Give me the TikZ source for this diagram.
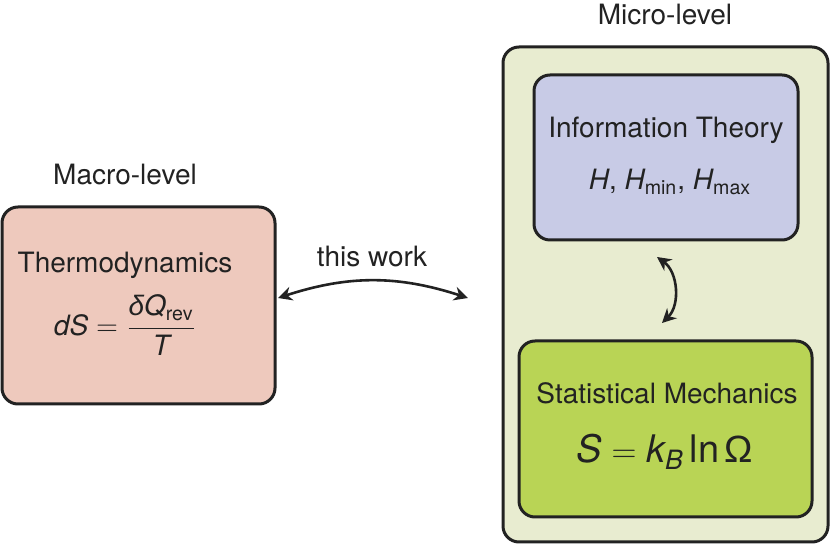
\documentclass[tikz,border=0pt]{standalone}
\usepackage{amsmath}
\usepackage{fontspec}
\setmainfont{TeX Gyre Heros}
\newfontfamily\grk{Liberation Sans}
\usetikzlibrary{arrows.meta,positioning}
\definecolor{macrofill}{HTML}{EEC9BD}
\definecolor{microfill}{HTML}{E8ECD0}
\definecolor{infofill}{HTML}{C8CBE6}
\definecolor{statfill}{HTML}{B9D455}
\definecolor{edge}{HTML}{222222}
\newcommand{\mi}[1]{\textit{#1}}
\begin{document}
\begin{tikzpicture}[
    x=0.5pt, y=-0.5pt,
    box/.style={rectangle, draw=edge, line width=1.5pt, rounded corners=8pt, inner sep=0pt},
    txt/.style={font=\fontsize{14}{16}\selectfont, text=edge},
    link/.style={{Stealth[length=7pt,width=7pt]}-{Stealth[length=7pt,width=7pt]}, line width=1.3pt, edge}
]
\useasboundingbox (0,0) rectangle (830,544);
% Macro side
\node[box, fill=macrofill, minimum width=136.5pt, minimum height=98.5pt] (macro) at (138.5,305.5) {};
\node[txt] (thermo) at (125,265) {Thermodynamics};
\node[txt] (clausius) at (125,325) {$\mi{dS}=\dfrac{\text{\grk\itshape δ}\mi{Q}_{\text{rev}}}{\mi{T}}$};
\node[txt] (macrolbl) at (125,175) {Macro-level};

% Micro side
\node[box, fill=microfill, minimum width=162.5pt, minimum height=247.5pt] (micro) at (665.5,294.5) {};
\node[txt] (microlbl) at (665,15) {Micro-level};
\node[box, fill=infofill, minimum width=132pt, minimum height=82.5pt] (info) at (666,157.5) {};
\node[txt] (infottl) at (666,130) {Information Theory};
\node[txt] (entropies) at (670,182) {\mi{H}, $\mi{H}_{\text{min}}$, $\mi{H}_{\text{max}}$};
\node[box, fill=statfill, minimum width=146.5pt, minimum height=88pt] (stat) at (665.5,429) {};
\node[txt] (statttl) at (667,393) {Statistical Mechanics};
\node[txt, font=\fontsize{19}{21}\selectfont] (boltz) at (665,452) {$\mi{S}=\mi{k}_{\mi{B}}\,\text{ln}\,\text{\grk Ω}$};

% Arrows
\coordinate (la) at (278,298);
\coordinate (ra) at (468,298);
\draw[link] (la) to[bend left=18] (ra);
\node[txt] (work) at (372,257) {this work};
\coordinate (ta) at (657,257);
\coordinate (tb) at (662,323);
\draw[link] (ta) to[bend left=50] (tb);
\end{tikzpicture}
\end{document}
